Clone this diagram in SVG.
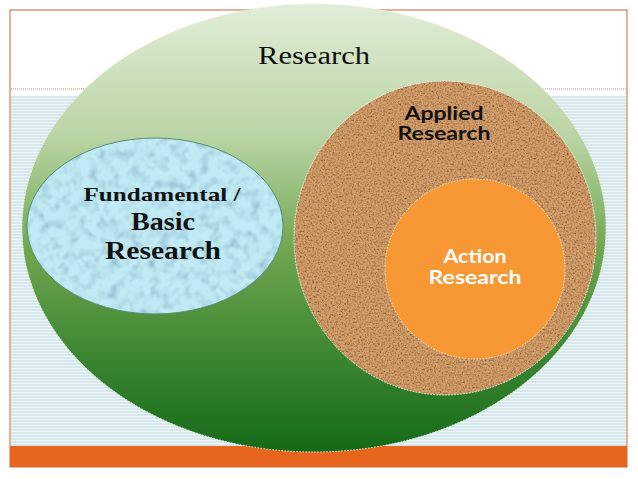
<svg xmlns="http://www.w3.org/2000/svg" width="638" height="479" viewBox="0 0 638 479">
<defs>
<style>
.ttl{font-family:"Liberation Serif",Georgia,serif;fill:#111}
.sans{font-family:Lato,"Liberation Sans",sans-serif;font-weight:bold}
.dot{fill:none;stroke:#f4f0d8;stroke-width:1;stroke-dasharray:1.5 1.5}
</style>
<pattern id="stripes" x="0" y="0" width="4" height="3" patternUnits="userSpaceOnUse">
<rect width="4" height="3" fill="#eef6f8"/>
<rect width="4" height="2" fill="#d4e8ee"/>
</pattern>
<linearGradient id="green" x1="0" y1="0" x2="0" y2="1">
<stop offset="0" stop-color="#e1edd8"/>
<stop offset="0.3" stop-color="#b9d4a3"/>
<stop offset="0.55" stop-color="#6fa64f"/>
<stop offset="0.8" stop-color="#3a8430"/>
<stop offset="1" stop-color="#146a18"/>
</linearGradient>
<filter id="cork" x="0" y="0" width="100%" height="100%">
<feTurbulence type="fractalNoise" baseFrequency="0.55" numOctaves="3" seed="4" result="n"/>
<feColorMatrix in="n" type="matrix" values="0.33 0.33 0.33 0 0  0.33 0.33 0.33 0 0  0.33 0.33 0.33 0 0  0 0 0 0 1" result="g"/>
<feComponentTransfer in="g" result="c">
<feFuncR type="linear" slope="2.4" intercept="-0.35"/>
<feFuncG type="linear" slope="2.4" intercept="-0.35"/>
<feFuncB type="linear" slope="2.4" intercept="-0.35"/>
</feComponentTransfer>
<feBlend in="SourceGraphic" in2="c" mode="multiply" result="b"/>
<feComposite in="b" in2="SourceGraphic" operator="in"/>
</filter>
<filter id="water" x="0" y="0" width="100%" height="100%">
<feTurbulence type="fractalNoise" baseFrequency="0.1" numOctaves="2" seed="7" result="n"/>
<feColorMatrix in="n" type="matrix" values="0.33 0.33 0.33 0 0  0.33 0.33 0.33 0 0  0.33 0.33 0.33 0 0  0 0 0 0 1" result="g"/>
<feComponentTransfer in="g" result="c">
<feFuncR type="linear" slope="1.6" intercept="0.15"/>
<feFuncG type="linear" slope="1.3" intercept="0.3"/>
<feFuncB type="linear" slope="1.0" intercept="0.45"/>
</feComponentTransfer>
<feBlend in="SourceGraphic" in2="c" mode="multiply" result="b"/>
<feComposite in="b" in2="SourceGraphic" operator="in"/>
</filter>
</defs>
<rect width="638" height="479" fill="#ffffff"/>
<g id="background">
<rect x="11" y="96" width="615" height="350" fill="url(#stripes)"/>
<line x1="11" y1="89" x2="626" y2="89" stroke="#c0703a" stroke-width="0.8" stroke-dasharray="1 1"/>
<rect x="10" y="10" width="617" height="457" fill="none" stroke="#c8642a" stroke-width="1"/>
<rect x="10" y="446" width="617" height="21" fill="#e8651f"/>
</g>
<g id="research">
<ellipse cx="314" cy="228" rx="292" ry="224" fill="url(#green)"/>
<ellipse cx="314" cy="228" rx="292" ry="224" class="dot"/>
<text class="ttl" x="314" y="64" font-size="26" text-anchor="middle" textLength="112" lengthAdjust="spacingAndGlyphs">Research</text>
</g>
<g id="basic">
<ellipse cx="155" cy="226" rx="128" ry="88" fill="#c0ebf5" filter="url(#water)"/>
<ellipse cx="155" cy="226" rx="128" ry="88" fill="none" stroke="#4f8f78" stroke-width="1"/>
<text class="ttl" font-weight="bold" x="162" y="201" font-size="19" text-anchor="middle" textLength="157" lengthAdjust="spacingAndGlyphs">Fundamental /</text>
<text class="ttl" font-weight="bold" x="163" y="230" font-size="26" text-anchor="middle" textLength="64" lengthAdjust="spacingAndGlyphs">Basic</text>
<text class="ttl" font-weight="bold" x="163" y="259" font-size="26" text-anchor="middle" textLength="116" lengthAdjust="spacingAndGlyphs">Research</text>
</g>
<g id="applied">
<ellipse cx="445" cy="238" rx="151" ry="157" fill="#d8a06a" filter="url(#cork)"/>
<ellipse cx="445" cy="238" rx="151" ry="157" class="dot"/>
<text class="sans" x="444" y="120" font-size="18" text-anchor="middle" fill="#111" textLength="79" lengthAdjust="spacingAndGlyphs">Applied</text>
<text class="sans" x="444" y="140" font-size="18" text-anchor="middle" fill="#111" textLength="93" lengthAdjust="spacingAndGlyphs">Research</text>
</g>
<g id="action">
<circle cx="475" cy="269" r="90" fill="#f79834"/>
<circle cx="475" cy="269" r="90" class="dot"/>
<text class="sans" x="475" y="263" font-size="18" text-anchor="middle" fill="#ffffff" textLength="63" lengthAdjust="spacingAndGlyphs">Action</text>
<text class="sans" x="475" y="284" font-size="18" text-anchor="middle" fill="#ffffff" textLength="93" lengthAdjust="spacingAndGlyphs">Research</text>
</g>
<g id="connectors"/>
</svg>
